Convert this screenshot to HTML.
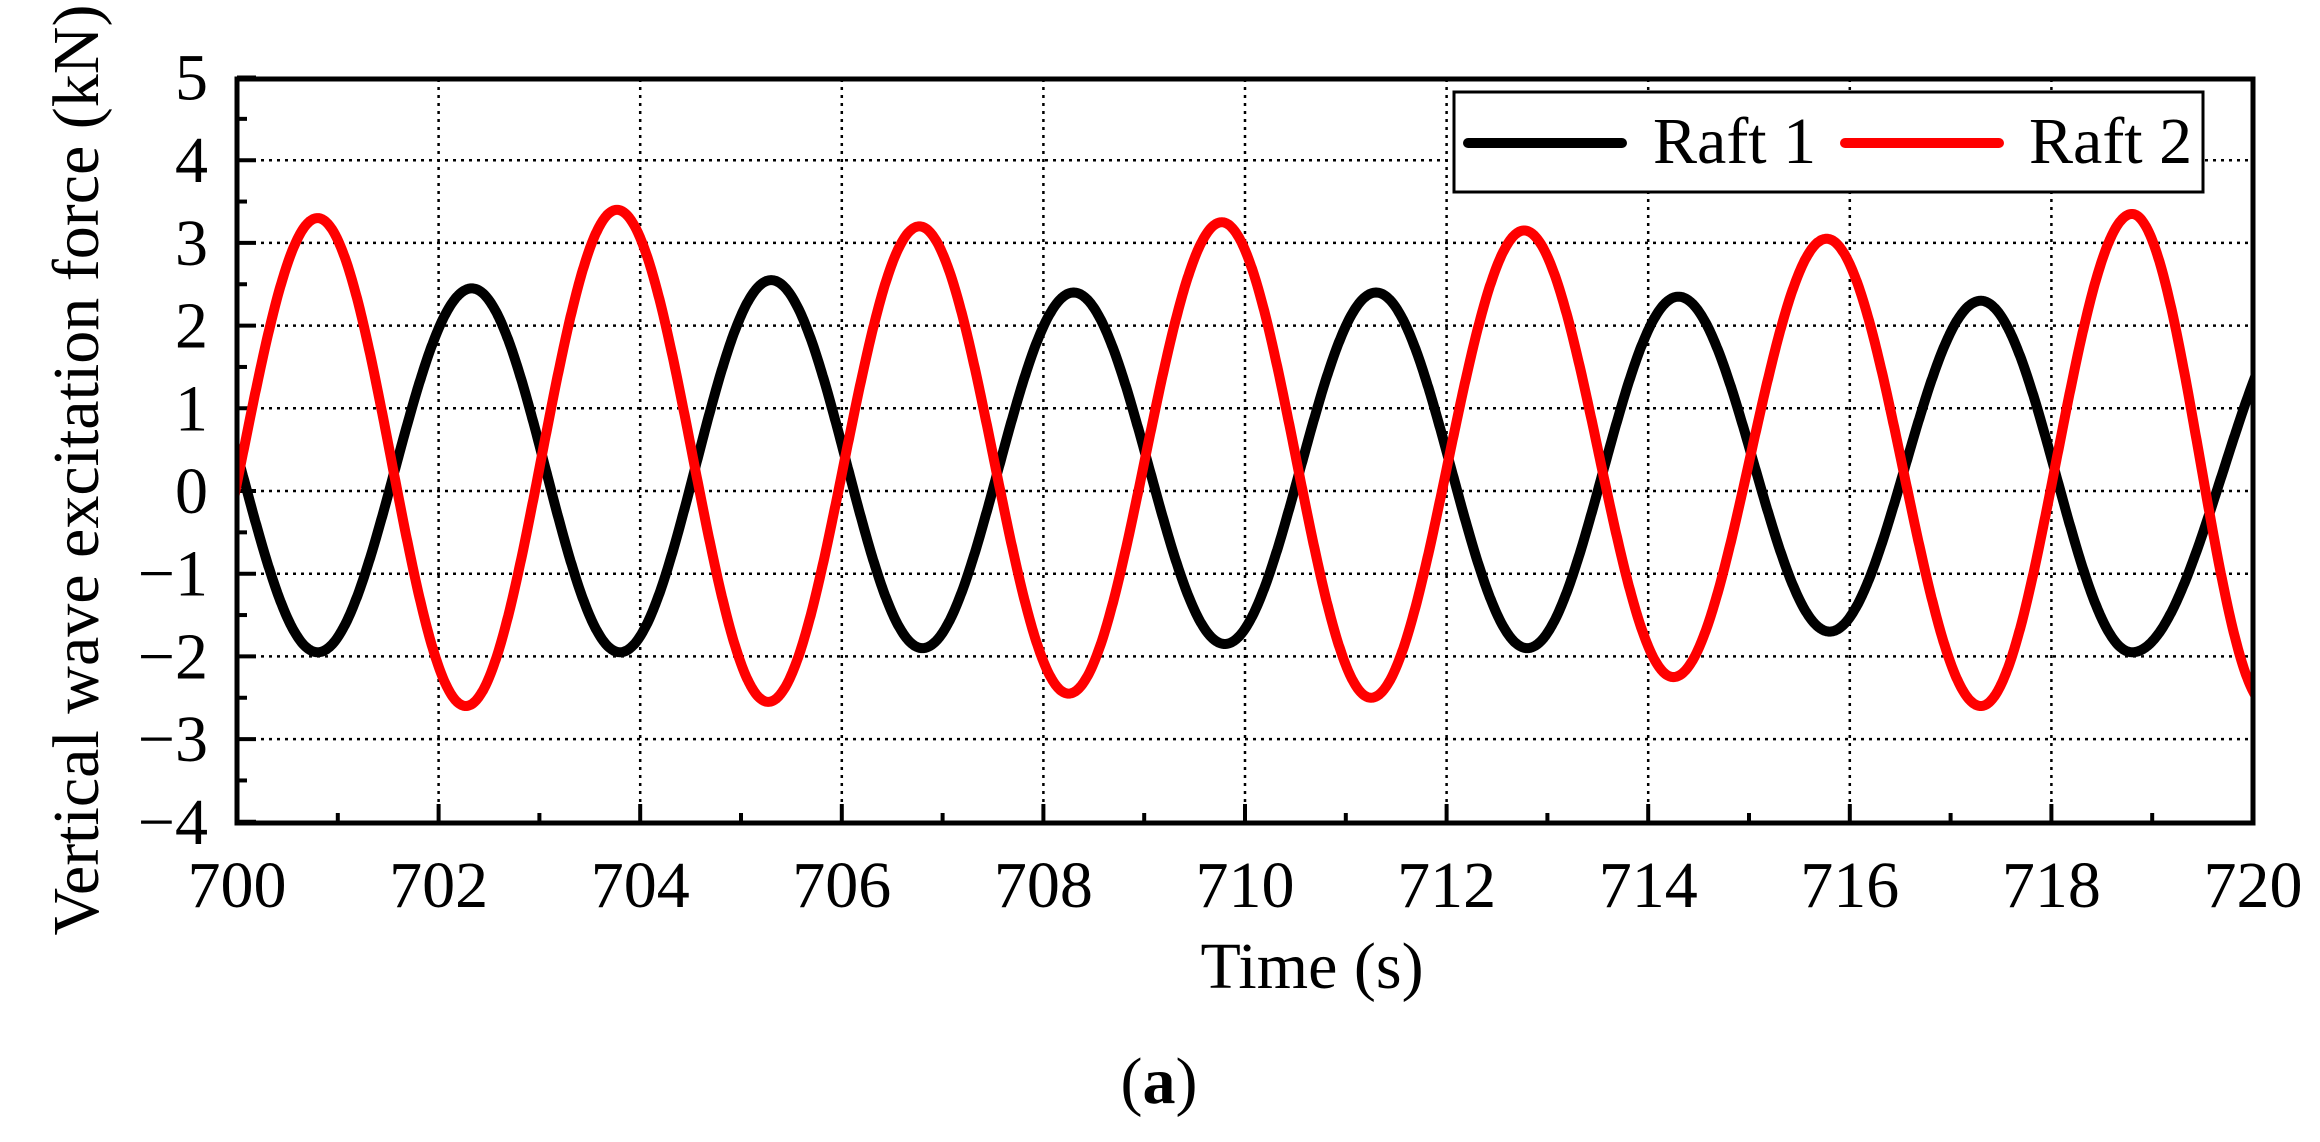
<!DOCTYPE html>
<html><head><meta charset="utf-8"><style>
html,body{margin:0;padding:0;background:#fff;}
svg{display:block;}
text{font-family:"Liberation Serif",serif;fill:#000;}
</style></head><body>
<svg id="s" width="2320" height="1142" xmlns="http://www.w3.org/2000/svg">
<defs><clipPath id="c"><rect x="237" y="77" width="2016" height="746"/></clipPath></defs>
<g id="grid" stroke="#000" stroke-width="2.5" stroke-dasharray="3 5"></g>
<g id="ticks" stroke="#000" stroke-width="4"></g>
<g clip-path="url(#c)">
<path id="p1" fill="none" stroke="#000" stroke-width="10" stroke-linejoin="round"/>
<path id="p2" fill="none" stroke="#ff0000" stroke-width="10" stroke-linejoin="round"/>
</g>
<rect x="237" y="79" width="2016" height="744" fill="none" stroke="#000" stroke-width="5"/>
<g id="lab" font-size="66"></g>
<text x="0" y="0" font-size="66" text-anchor="middle" transform="translate(98,470) rotate(-90)">Vertical wave excitation force (kN)</text>
<text x="1312" y="988" font-size="66" text-anchor="middle">Time (s)</text>
<text x="1159" y="1103" font-size="66" text-anchor="middle">(<tspan font-weight="bold">a</tspan>)</text>
<rect x="1454" y="92" width="749" height="100" fill="#fff" stroke="#000" stroke-width="3"/>
<line x1="1468" y1="143" x2="1622" y2="143" stroke="#000" stroke-width="10" stroke-linecap="round"/>
<text x="1653" y="163" font-size="66">Raft 1</text>
<line x1="1845" y1="143" x2="1999" y2="143" stroke="#ff0000" stroke-width="10" stroke-linecap="round"/>
<text x="2029" y="163" font-size="66">Raft 2</text>
</svg>
<script>
var NS="http://www.w3.org/2000/svg";
function X(t){return 237+(t-700)*100.8;}
function Y(v){return 491-v*82.7;}
function el(p,tag,a,txt){var e=document.createElementNS(NS,tag);for(var k in a)e.setAttribute(k,a[k]);if(txt!==undefined)e.textContent=txt;document.getElementById(p).appendChild(e);}
for(var t=702;t<720;t+=2){el("grid","line",{x1:X(t),y1:79,x2:X(t),y2:823});}
for(var v=-3;v<=4;v++){el("grid","line",{x1:237,y1:Y(v),x2:2253,y2:Y(v)});}
for(var t=700;t<=720;t++){var L=(t%2==0)?19:10;el("ticks","line",{x1:X(t),y1:823,x2:X(t),y2:823-L});}
for(var v=-4;v<=5;v+=0.5){var L=(Math.abs(v%1)<1e-6)?19:10;el("ticks","line",{x1:237,y1:Y(v),x2:237+L,y2:Y(v)});}
for(var t=700;t<=720;t+=2){el("lab","text",{x:X(t),y:907,"text-anchor":"middle"},String(t));}
for(var v=-4;v<=5;v++){el("lab","text",{x:208,y:Y(v)+22,"text-anchor":"end"},(v<0?"\u2212"+(-v):String(v)));}
function path(ex){var d="";var first=true;
 for(var t=699.5;t<=720.5;t+=0.01){
  var i=0;while(i<ex.length-2&&ex[i+1][0]<t)i++;
  var a=ex[i],b=ex[i+1];var ph=(t-a[0])/(b[0]-a[0]);ph=Math.max(0,Math.min(1,ph));
  var v=a[1]+(b[1]-a[1])*(1-Math.cos(Math.PI*ph))/2;
  d+=(first?"M":"L")+X(t).toFixed(1)+","+Y(v).toFixed(1);first=false;}
 return d;}
var b=[[699.3,2.4],[700.8,-1.95],[702.33,2.45],[703.8,-1.95],[705.3,2.55],[706.8,-1.9],[708.3,2.4],[709.8,-1.85],[711.3,2.4],[712.8,-1.9],[714.3,2.35],[715.8,-1.7],[717.3,2.3],[718.8,-1.95],[720.6,2.4]];
var r=[[699.3,-2.5],[700.8,3.3],[702.27,-2.6],[703.77,3.4],[705.27,-2.55],[706.77,3.2],[708.25,-2.45],[709.77,3.25],[711.25,-2.5],[712.77,3.15],[714.25,-2.25],[715.77,3.05],[717.3,-2.6],[718.8,3.35],[720.15,-2.6]];
document.getElementById("p1").setAttribute("d",path(b));
document.getElementById("p2").setAttribute("d",path(r));
</script>
</body></html>
